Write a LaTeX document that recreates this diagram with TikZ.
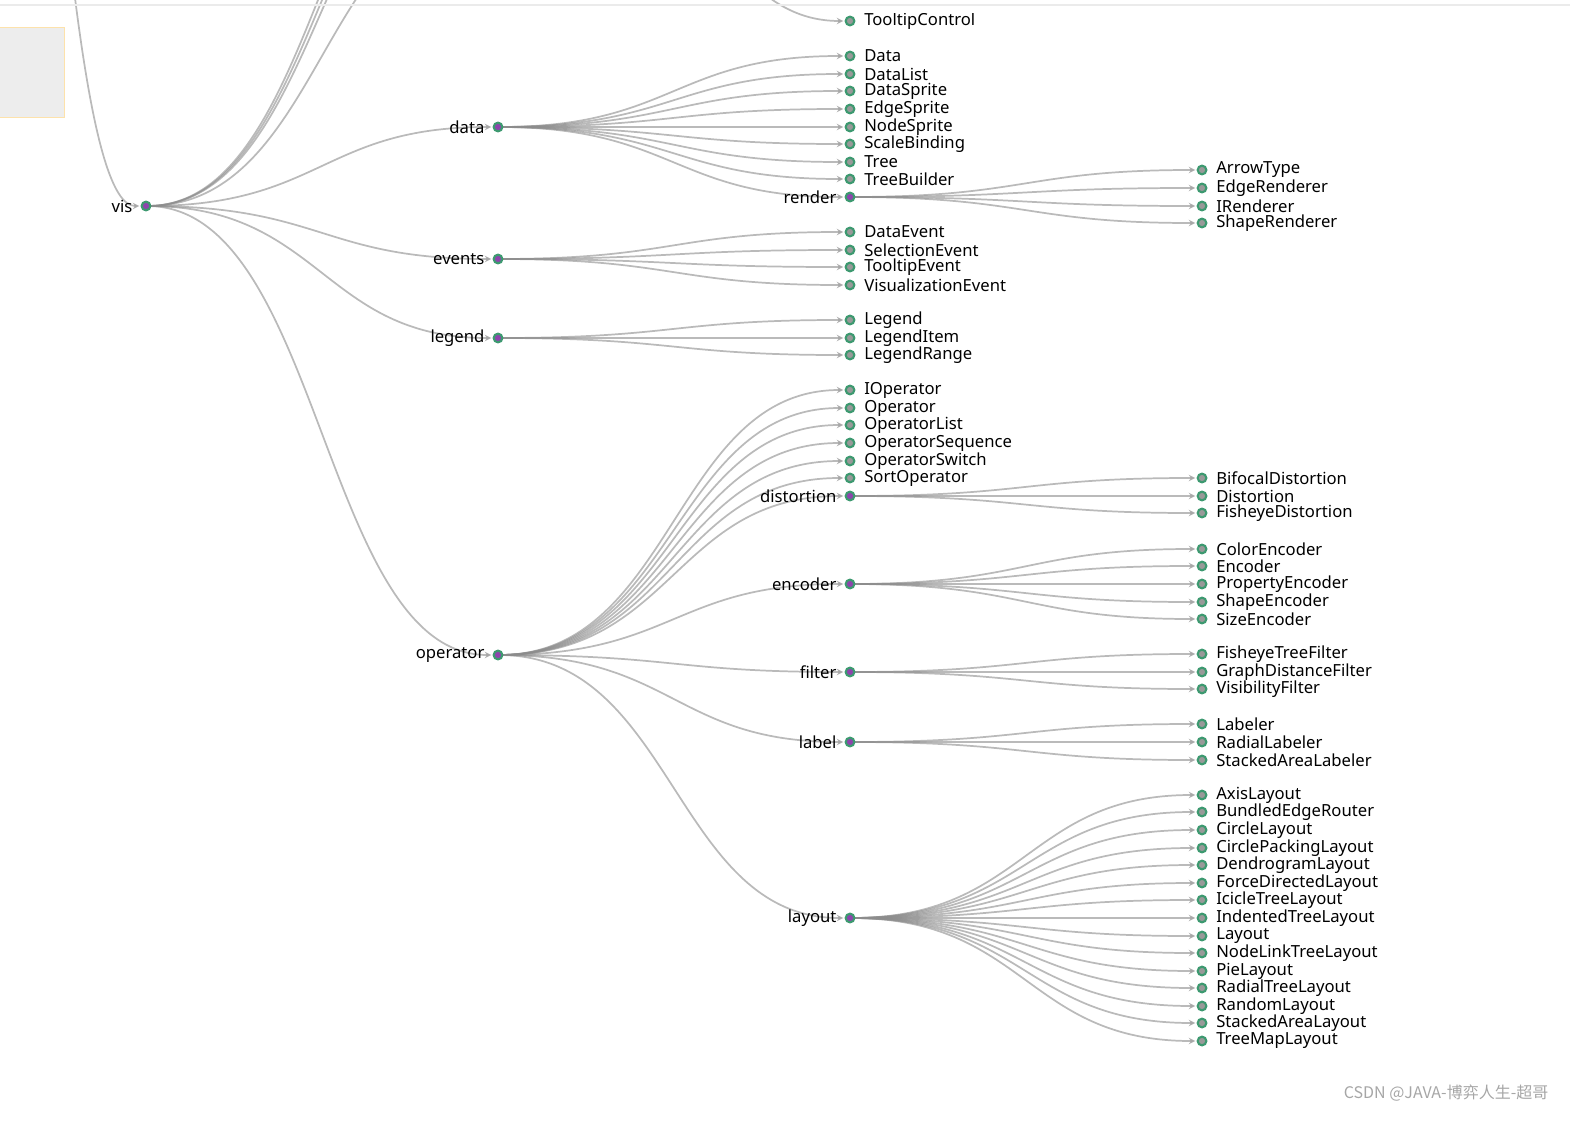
\documentclass[tikz,border=0pt]{standalone}
\usepackage{fontspec}
\setmainfont{Noto Sans}
\newfontfamily\cjk{Noto Sans CJK SC}
\usetikzlibrary{backgrounds,calc,arrows.meta}
\definecolor{leafc}{HTML}{999999}
\definecolor{intc}{HTML}{8E44AD}
\definecolor{ringc}{HTML}{3D9970}
\tikzset{
 leaf/.style={circle,fill=leafc,draw=ringc,line width=1.6pt,inner sep=0pt,minimum size=6.5pt},
 inner/.style={circle,fill=intc,draw=ringc,line width=1.6pt,inner sep=0pt,minimum size=6.5pt},
 lbl/.style={font=\fontsize{12.5pt}{14pt}\selectfont,inner sep=0pt},
 edge/.style={draw=black!45,opacity=0.6,line width=1.3pt,shorten <=1pt,shorten >=5pt,-{Stealth[length=5pt,width=5pt,fill=black!30]}}
}
\newcommand\lf[4]{\node[leaf] (#1) at (#2,#3) {}; \node[lbl,anchor=west] at ([xshift=10.5pt]#1.center) {#1}; \pcurve{#4}{#1}}
\newcommand\inn[4]{\node[inner] (#1) at (#2,#3) {}; \node[lbl,anchor=east] at ([xshift=-10pt]#1.center) {#1}; \pcurve{#4}{#1}}
\newcommand\pcurve[2]{\begin{scope}[on background layer]\draw[edge] let \p1=(#1.center),\p2=(#2.center) in (\p1) .. controls ({(\x1+\x2)/2},\y1) and ({(\x1+\x2)/2},\y2) .. (\p2);\end{scope}}
\begin{document}
\begin{tikzpicture}[x=0.75pt,y=-0.75pt]
\useasboundingbox (0,0) rectangle (1595,1131);
\draw[black!8,line width=1.2pt] (0,5) -- (1570,5);
\begin{scope}
\clip (0,14) rectangle (1595,1131);
\draw[fill=black!7,draw=yellow!30!orange!30] (-2,27) rectangle (64,117);
\coordinate (root) at (-62,-900);
\coordinate (c1) at (498,-180);
\coordinate (c2) at (498,-200);
\coordinate (c3) at (498,-220);
\coordinate (c4) at (498,-90);
\coordinate (tc) at (498,-300);
\node[inner] (vis) at (146,206) {}; \node[lbl,anchor=east] at ([xshift=-10pt]vis.center) {vis};
\pcurve{root}{vis}
\pcurve{vis}{c1}\pcurve{vis}{c2}\pcurve{vis}{c3}\pcurve{vis}{c4}
\lf{TooltipControl}{850}{21}{tc}
\end{scope}
\inn{data}{498}{127}{vis}
\inn{events}{498}{259}{vis}
\inn{legend}{498}{338}{vis}
\inn{operator}{498}{655}{vis}
\lf{Data}{850}{56}{data}
\lf{DataList}{850}{74}{data}
\lf{DataSprite}{850}{91}{data}
\lf{EdgeSprite}{850}{109}{data}
\lf{NodeSprite}{850}{127}{data}
\lf{ScaleBinding}{850}{144}{data}
\lf{Tree}{850}{162}{data}
\lf{TreeBuilder}{850}{179}{data}
\inn{render}{850}{197}{data}
\lf{ArrowType}{1202}{170}{render}
\lf{EdgeRenderer}{1202}{188}{render}
\lf{IRenderer}{1202}{206}{render}
\lf{ShapeRenderer}{1202}{223}{render}
\lf{DataEvent}{850}{232}{events}
\lf{SelectionEvent}{850}{250}{events}
\lf{TooltipEvent}{850}{267}{events}
\lf{VisualizationEvent}{850}{285}{events}
\lf{Legend}{850}{320}{legend}
\lf{LegendItem}{850}{338}{legend}
\lf{LegendRange}{850}{355}{legend}
\lf{IOperator}{850}{390}{operator}
\lf{Operator}{850}{408}{operator}
\lf{OperatorList}{850}{425}{operator}
\lf{OperatorSequence}{850}{443}{operator}
\lf{OperatorSwitch}{850}{461}{operator}
\lf{SortOperator}{850}{478}{operator}
\inn{distortion}{850}{496}{operator}
\inn{encoder}{850}{584}{operator}
\inn{filter}{850}{672}{operator}
\inn{label}{850}{742}{operator}
\inn{layout}{850}{918}{operator}
\lf{BifocalDistortion}{1202}{478}{distortion}
\lf{Distortion}{1202}{496}{distortion}
\lf{FisheyeDistortion}{1202}{513}{distortion}
\lf{ColorEncoder}{1202}{549}{encoder}
\lf{Encoder}{1202}{566}{encoder}
\lf{PropertyEncoder}{1202}{584}{encoder}
\lf{ShapeEncoder}{1202}{602}{encoder}
\lf{SizeEncoder}{1202}{619}{encoder}
\lf{FisheyeTreeFilter}{1202}{654}{filter}
\lf{GraphDistanceFilter}{1202}{672}{filter}
\lf{VisibilityFilter}{1202}{689}{filter}
\lf{Labeler}{1202}{724}{label}
\lf{RadialLabeler}{1202}{742}{label}
\lf{StackedAreaLabeler}{1202}{760}{label}
\lf{AxisLayout}{1202}{795}{layout}
\lf{BundledEdgeRouter}{1202}{812}{layout}
\lf{CircleLayout}{1202}{830}{layout}
\lf{CirclePackingLayout}{1202}{848}{layout}
\lf{DendrogramLayout}{1202}{865}{layout}
\lf{ForceDirectedLayout}{1202}{883}{layout}
\lf{IcicleTreeLayout}{1202}{900}{layout}
\lf{IndentedTreeLayout}{1202}{918}{layout}
\lf{Layout}{1202}{936}{layout}
\lf{NodeLinkTreeLayout}{1202}{953}{layout}
\lf{PieLayout}{1202}{971}{layout}
\lf{RadialTreeLayout}{1202}{988}{layout}
\lf{RandomLayout}{1202}{1006}{layout}
\lf{StackedAreaLayout}{1202}{1023}{layout}
\lf{TreeMapLayout}{1202}{1041}{layout}
\node[anchor=east,text=black!35,font=\cjk\fontsize{12pt}{14pt}\selectfont] (wm) at (1553,1093) {CSDN @JAVA-博弈人生-超哥};
\end{tikzpicture}
\end{document}
